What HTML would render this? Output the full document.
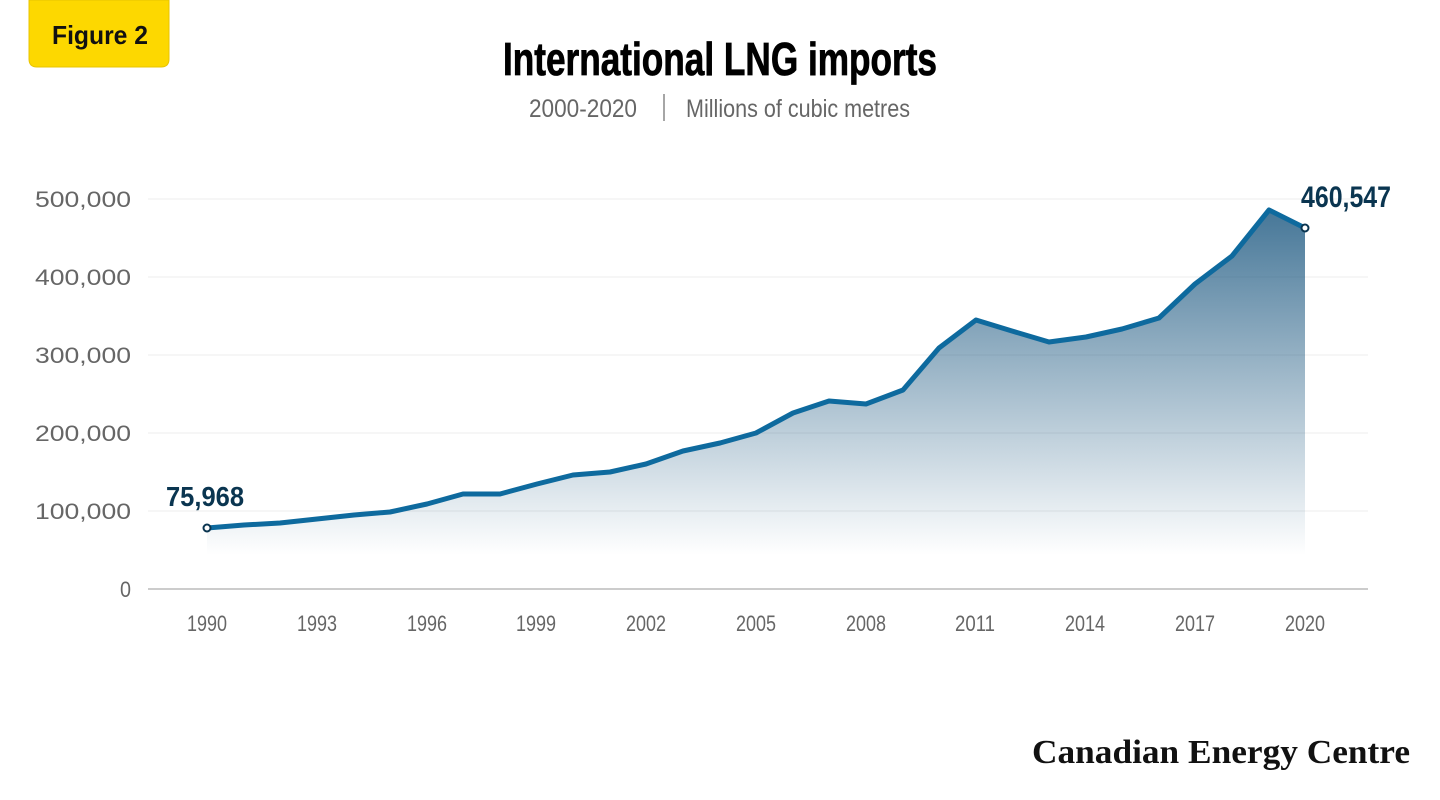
<!DOCTYPE html>
<html><head><meta charset="utf-8"><style>
html,body{margin:0;padding:0;background:#fff;width:1440px;height:800px;overflow:hidden}
svg{display:block}
</style></head><body>
<svg width="1440" height="800" viewBox="0 0 1440 800" xmlns="http://www.w3.org/2000/svg">
<defs>
<linearGradient id="fill" gradientUnits="userSpaceOnUse" x1="0" y1="200" x2="0" y2="555">
<stop offset="0" stop-color="#1f5a82" stop-opacity="0.85"/>
<stop offset="1" stop-color="#1f5a82" stop-opacity="0"/>
</linearGradient>
</defs>
<path d="M29 0 H169 V59 Q169 67 161 67 H37 Q29 67 29 59 Z" fill="#fdd800" stroke="#e8c400" stroke-width="1"/>
<text x="100" y="44" text-anchor="middle" font-family="Liberation Sans, sans-serif" font-weight="bold" font-size="26" textLength="96" lengthAdjust="spacingAndGlyphs" fill="#111">Figure 2</text>
<text x="720" y="75" text-anchor="middle" font-family="Liberation Sans, sans-serif" font-weight="bold" font-size="46" textLength="434" lengthAdjust="spacingAndGlyphs" fill="#000" stroke="#000" stroke-width="0.8">International LNG imports</text>
<text x="583" y="117" text-anchor="middle" font-family="Liberation Sans, sans-serif" font-size="25" textLength="108" lengthAdjust="spacingAndGlyphs" fill="#666">2000-2020</text>
<line x1="664" y1="94" x2="664" y2="121" stroke="#888" stroke-width="1.5"/>
<text x="798" y="117" text-anchor="middle" font-family="Liberation Sans, sans-serif" font-size="25" textLength="224" lengthAdjust="spacingAndGlyphs" fill="#666">Millions of cubic metres</text>
<g stroke="#ececec" stroke-width="1">
<line x1="148" y1="199" x2="1368" y2="199"/>
<line x1="148" y1="277" x2="1368" y2="277"/>
<line x1="148" y1="355" x2="1368" y2="355"/>
<line x1="148" y1="433" x2="1368" y2="433"/>
<line x1="148" y1="511" x2="1368" y2="511"/>
</g>
<line x1="148" y1="589" x2="1368" y2="589" stroke="#ccc" stroke-width="2"/>
<g font-family="Liberation Sans, sans-serif" font-size="22" fill="#666" text-anchor="end">
<text x="131" y="207" textLength="96" lengthAdjust="spacingAndGlyphs">500,000</text>
<text x="131" y="285" textLength="96" lengthAdjust="spacingAndGlyphs">400,000</text>
<text x="131" y="363" textLength="96" lengthAdjust="spacingAndGlyphs">300,000</text>
<text x="131" y="441" textLength="96" lengthAdjust="spacingAndGlyphs">200,000</text>
<text x="131" y="519" textLength="96" lengthAdjust="spacingAndGlyphs">100,000</text>
<text x="131" y="597" textLength="11" lengthAdjust="spacingAndGlyphs">0</text>
</g>
<g font-family="Liberation Sans, sans-serif" font-size="22" fill="#666" text-anchor="middle">
<text x="207" y="631" textLength="40" lengthAdjust="spacingAndGlyphs">1990</text>
<text x="317" y="631" textLength="40" lengthAdjust="spacingAndGlyphs">1993</text>
<text x="427" y="631" textLength="40" lengthAdjust="spacingAndGlyphs">1996</text>
<text x="536" y="631" textLength="40" lengthAdjust="spacingAndGlyphs">1999</text>
<text x="646" y="631" textLength="40" lengthAdjust="spacingAndGlyphs">2002</text>
<text x="756" y="631" textLength="40" lengthAdjust="spacingAndGlyphs">2005</text>
<text x="866" y="631" textLength="40" lengthAdjust="spacingAndGlyphs">2008</text>
<text x="975" y="631" textLength="40" lengthAdjust="spacingAndGlyphs">2011</text>
<text x="1085" y="631" textLength="40" lengthAdjust="spacingAndGlyphs">2014</text>
<text x="1195" y="631" textLength="40" lengthAdjust="spacingAndGlyphs">2017</text>
<text x="1305" y="631" textLength="40" lengthAdjust="spacingAndGlyphs">2020</text>
</g>
<path fill="url(#fill)" d="M207,528 L244,525 L280,523 L317,519 L354,515 L390,512 L427,504 L463,494 L500,494 L537,484 L573,475 L610,472 L646,464 L683,451 L720,443 L756,433 L793,413 L829,401 L866,404 L903,390 L939,348 L976,320 L1012,331 L1049,342 L1086,337 L1122,329 L1159,318 L1195,284 L1232,256 L1269,210 L1305,228 L1305,589 L207,589 Z"/>
<polyline fill="none" stroke="#0e6a9e" stroke-width="5" stroke-linejoin="round" stroke-linecap="round" points="207,528 244,525 280,523 317,519 354,515 390,512 427,504 463,494 500,494 537,484 573,475 610,472 646,464 683,451 720,443 756,433 793,413 829,401 866,404 903,390 939,348 976,320 1012,331 1049,342 1086,337 1122,329 1159,318 1195,284 1232,256 1269,210 1305,228"/>
<circle cx="207" cy="528" r="3.5" fill="#fff" stroke="#0a3550" stroke-width="2"/>
<circle cx="1305" cy="228" r="3.5" fill="#fff" stroke="#0a3550" stroke-width="2"/>
<text x="205" y="506" text-anchor="middle" font-family="Liberation Sans, sans-serif" font-weight="bold" font-size="28" textLength="78" lengthAdjust="spacingAndGlyphs" fill="#0a3550">75,968</text>
<text x="1346" y="207" text-anchor="middle" font-family="Liberation Sans, sans-serif" font-weight="bold" font-size="30" textLength="90" lengthAdjust="spacingAndGlyphs" fill="#0a3550">460,547</text>
<text x="1221" y="763" text-anchor="middle" font-family="Liberation Serif, serif" font-weight="bold" font-size="34" textLength="378" lengthAdjust="spacingAndGlyphs" fill="#111">Canadian Energy Centre</text>
</svg>
</body></html>
